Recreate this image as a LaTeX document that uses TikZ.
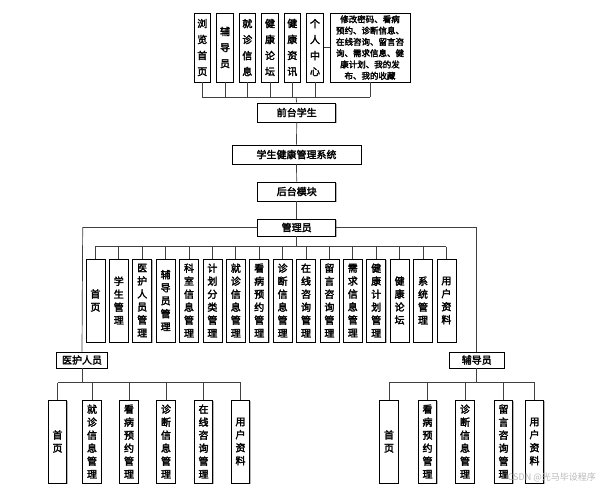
\documentclass[tikz,border=0pt]{standalone}
\usepackage{fontspec}
\newfontfamily\cjk{Noto Sans CJK SC}
\newfontfamily\cjkb{Noto Sans CJK SC}[FakeBold=2.5]
\usetikzlibrary{shadows}
\begin{document}
\begin{tikzpicture}[x=1pt,y=-1pt,
  box/.style={draw=black, line width=0.7pt, fill=white, inner sep=0pt, align=center,
    drop shadow={shadow xshift=0.8pt, shadow yshift=-0.8pt, fill=gray!70, opacity=0.8},
    font=\cjkb\fontsize{10}{12}\selectfont},
  topbox/.style={box, minimum width=16.5pt, minimum height=69pt, font=\cjkb\fontsize{10}{16}\selectfont},
  hbox/.style={box, minimum height=19pt},
  colbox/.style={box, minimum width=19pt, minimum height=83pt, font=\cjkb\fontsize{10}{13}\selectfont},
  lowbox/.style={box, minimum width=18.5pt, minimum height=83pt, font=\cjkb\fontsize{10}{13}\selectfont},
  link/.style={draw=black!75, line width=0.7pt}
]
\useasboundingbox (0,0) rectangle (599,492);
\fill[white] (0,0) rectangle (599,492);

% top row
\node[topbox] (t1) at (202.3,47.5) {浏\\览\\首\\页};
\node[topbox] (t2) at (225,47.5) {辅\\导\\员};
\node[topbox] (t3) at (247.3,47.5) {就\\诊\\信\\息};
\node[topbox] (t4) at (270,47.5) {健\\康\\论\\坛};
\node[topbox] (t5) at (292.3,47.5) {健\\康\\资\\讯};
\node[topbox] (t6) at (315,47.5) {个\\人\\中\\心};
\node[box, minimum width=80pt, minimum height=69pt, font=\cjkb\fontsize{8.5}{11.3}\selectfont] (t7) at (370,47.5)
  {修改密码、看病\\预约、诊断信息、\\在线咨询、留言咨\\询、需求信息、健\\康计划、我的发\\布、我的收藏};
\coordinate (tbus) at (296,97);
\foreach \n in {t1,t2,t3,t4,t5,t6,t7} \draw[link] (\n.south) -- (\n.south |- tbus);
\draw[link] (t1.south |- tbus) -- (t7.south |- tbus);
\draw[link] (t6.east) -- (t7.west);

% middle chain
\node[hbox, minimum width=78pt] (qt) at (296.7,112.5) {前台学生};
\node[hbox, minimum width=129pt] (sys) at (296.5,154.5) {学生健康管理系统};
\node[hbox, minimum width=78pt] (ht) at (296.7,191.5) {后台模块};
\node[hbox, minimum width=78pt, minimum height=17pt] (adm) at (296.7,227.5) {管理员};
\draw[link] (tbus) -- (qt.north);
\draw[link] (qt.south) -- (sys.north);
\draw[link] (sys.south) -- (ht.north);
\draw[link] (ht.south) -- (adm.north);

% admin children
\coordinate (abus) at (296.7,246.5);
\foreach \t [count=\i from 0] in {
  {首\\页},{学\\生\\管\\理},{医\\护\\人\\员\\管\\理},{辅\\导\\员\\管\\理},
  {科\\室\\信\\息\\管\\理},{计\\划\\分\\类\\管\\理},{就\\诊\\信\\息\\管\\理},{看\\病\\预\\约\\管\\理},
  {诊\\断\\信\\息\\管\\理},{在\\线\\咨\\询\\管\\理},{留\\言\\咨\\询\\管\\理},{需\\求\\信\\息\\管\\理},
  {健\\康\\计\\划\\管\\理},{健\\康\\论\\坛},{系\\统\\管\\理},{用\\户\\资\\料}}
{
  \node[colbox] (a\i) at ({95.4+23.4*\i},300.5) {\t};
  \draw[link] (a\i.north) -- (a\i.north |- abus);
}
\draw[link] (a0.north |- abus) -- (a15.north |- abus);
\draw[link] (adm.south) -- (abus);

% medical staff
\node[hbox, minimum width=51pt, minimum height=16pt] (yh) at (82,360) {医护人员};
\coordinate (ycor) at (82.7,228);
\draw[link] (adm.west) -- (adm.west -| ycor) -- (yh.north);
\coordinate (ybus) at (82,382.5);
\foreach \t/\x [count=\i] in {{首\\页}/57.5,{就\\诊\\信\\息\\管\\理}/92,{看\\病\\预\\约\\管\\理}/129,
  {诊\\断\\信\\息\\管\\理}/166,{在\\线\\咨\\询\\管\\理}/203.5,{用\\户\\资\\料}/240.5}
{
  \node[lowbox] (y\i) at (\x,441.5) {\t};
  \draw[link] (y\i.north) -- (y\i.north |- ybus);
}
\draw[link] (y1.north |- ybus) -- (y6.north |- ybus);
\draw[link] (yh.south) -- (yh.south |- ybus);

% counselor
\node[hbox, minimum width=55pt, minimum height=16pt] (fd) at (476.7,360) {辅导员};
\draw[link] (adm.east) -- (adm.east -| fd.north) -- (fd.north);
\coordinate (fbus) at (476.7,382.5);
\foreach \t/\x [count=\i] in {{首\\页}/389,{看\\病\\预\\约\\管\\理}/427.5,{诊\\断\\信\\息\\管\\理}/465,
  {留\\言\\咨\\询\\管\\理}/503.5,{用\\户\\资\\料}/534.5}
{
  \node[lowbox] (f\i) at (\x,441.5) {\t};
  \draw[link] (f\i.north) -- (f\i.north |- fbus);
}
\draw[link] (f1.north |- fbus) -- (f5.north |- fbus);
\draw[link] (fd.south) -- (fbus);

% watermark
\node[anchor=east, inner sep=0pt, text=gray!55, font=\cjk\fontsize{9}{9}\selectfont] (wm) at (596,477) {CSDN @光马毕设程序};
\end{tikzpicture}
\end{document}
